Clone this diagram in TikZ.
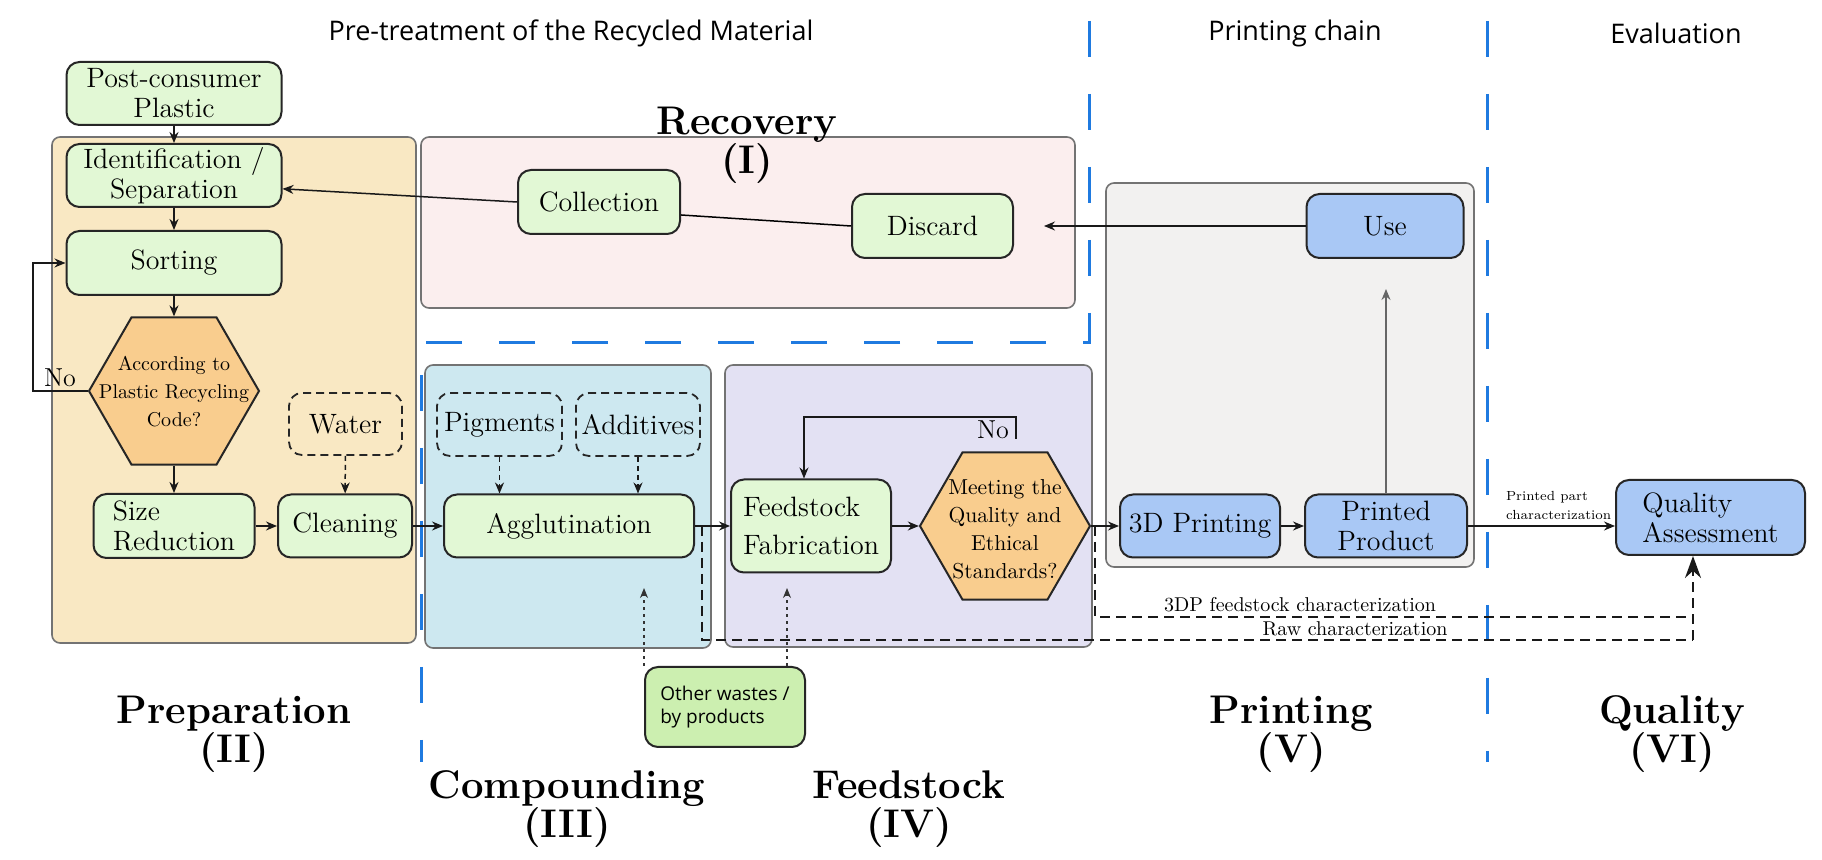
\documentclass[tikz,border=0pt]{standalone}
\usepackage{fontspec}
\newfontfamily\topfont{Open Sans}
\usetikzlibrary{arrows.meta,shapes.geometric,calc}
\definecolor{ngreen}{HTML}{E2F8D5}
\definecolor{ogreen}{HTML}{CCEFB0}
\definecolor{nblue}{HTML}{A9C8F5}
\definecolor{norange}{HTML}{F9CD8E}
\definecolor{cprep}{HTML}{F9E8C3}
\definecolor{crec}{HTML}{FBEEEE}
\definecolor{ccomp}{HTML}{CDE8F0}
\definecolor{cfeed}{HTML}{E3E1F3}
\definecolor{cprint}{HTML}{F2F1F0}
\definecolor{cline}{HTML}{1F7AE0}
\begin{document}
\begin{tikzpicture}[x=0.5pt,y=-0.5pt,
  nd/.style={draw=black!85, line width=1pt, rounded corners=6.5pt, inner sep=0pt, align=center, font=\fontsize{14}{15}\selectfont},
  gn/.style={nd, fill=ngreen},
  bn/.style={nd, fill=nblue},
  dn/.style={nd, dash pattern=on 4pt off 2.5pt, line width=0.9pt},
  hexa/.style={regular polygon, regular polygon sides=6, draw=black!85, line width=1pt, fill=norange, minimum size=85pt, inner sep=0pt},
  hext/.style={align=center, font=\fontsize{10}{14}\selectfont},
  phasebox/.style={draw=black!55, line width=0.8pt, rounded corners=4pt},
  arr/.style={-{Stealth[length=5.5pt,width=4.5pt]}, line width=0.75pt, black!90},
  darr/.style={arr, dash pattern=on 2.5pt off 2pt},
  dsh/.style={line width=1pt, black!90, dash pattern=on 5pt off 3pt},
  dotarr/.style={-{Stealth[length=5pt,width=4pt]}, line width=0.6pt, dash pattern=on 1.5pt off 2pt, black!80},
  headlbl/.style={font=\fontsize{20}{19.5}\selectfont\bfseries, align=center},
  toplbl/.style={font=\topfont\fontsize{13.5}{16}\selectfont},
  bluedash/.style={draw=cline, line width=1.5pt, dash pattern=on 18pt off 18.5pt},
  nolbl/.style={font=\fontsize{13}{14}\selectfont},
]
\fill[white] (0,0) rectangle (1822,860);
\useasboundingbox (0,0) rectangle (1822,860);

% blue phase separators
\draw[bluedash] (1089,21) -- (1089,343) -- (421,343) -- (421,762);
\draw[bluedash] (1487,21) -- (1487,762);

% phase boxes
\draw[phasebox, fill=cprep] (52,137) rectangle (416,643);
\draw[phasebox, fill=crec] (421,137) rectangle (1075,308);
\draw[phasebox, fill=ccomp] (425,365) rectangle (711,648);
\draw[phasebox, fill=cfeed] (725,365) rectangle (1092,647);
\draw[phasebox, fill=cprint] (1106,183) rectangle (1474,567);

% top labels
\node[toplbl] (t1) at (571,33) {Pre-treatment of the Recycled Material};
\node[toplbl] (t2) at (1295,33) {Printing chain};
\node[toplbl] (t3) at (1676,33) {Evaluation};

% nodes
\node[gn, minimum width=107.5pt, minimum height=31.5pt] (pc) at (174,93.5) {Post-consumer\\Plastic};
\node[gn, minimum width=107.5pt, minimum height=31.5pt] (ids) at (174,175.5) {Identification /\\Separation};
\node[gn, minimum width=107.5pt, minimum height=32pt] (sort) at (174,263) {Sorting};
\node[hexa] (q1) at (174,391) {};
\node[hext] (q1t) at (174,392) {According to\\Plastic Recycling\\Code?};
\node[dn, minimum width=56.5pt, minimum height=31pt] (water) at (345.5,424) {Water};
\node[gn, align=left, minimum width=80.5pt, minimum height=32pt] (size) at (174,526) {Size\\Reduction};
\node[gn, minimum width=67pt, minimum height=31.5pt] (clean) at (345,526) {Cleaning};
\node[gn, minimum width=81pt, minimum height=32pt] (coll) at (599,202) {Collection};
\node[gn, minimum width=80.5pt, minimum height=32pt] (disc) at (932.5,226) {Discard};
\node[bn, minimum width=78.5pt, minimum height=32pt] (use) at (1385,226) {Use};
\node[dn, minimum width=62.5pt, minimum height=31.5pt] (pig) at (499.5,424.5) {Pigments};
\node[dn, minimum width=62pt, minimum height=31.5pt] (add) at (638,424.5) {Additives};
\node[gn, minimum width=125pt, minimum height=31.5pt] (agg) at (569,526) {Agglutination};
\node[gn, align=left, font=\fontsize{14}{19}\selectfont, minimum width=80pt, minimum height=46.5pt] (ff) at (811,526) {Feedstock\\Fabrication};
\node[hexa] (q2) at (1005,526) {};
\node[hext, font=\fontsize{10.8}{14}\selectfont] (q2t) at (1005,529) {Meeting the\\Quality and\\Ethical\\Standards?};
\node[bn, minimum width=80pt, minimum height=31.5pt] (p3d) at (1200,526) {3D Printing};
\node[bn, minimum width=81pt, minimum height=31.5pt] (pp) at (1386,526) {Printed\\Product};
\node[bn, align=left, minimum width=94.5pt, minimum height=37.5pt] (qa) at (1710.5,517.5) {Quality\\Assessment};
\node[nd, fill=ogreen, align=left, font=\topfont\fontsize{9.5}{11.5}\selectfont, minimum width=80pt, minimum height=40pt] (ow) at (725,707) {Other wastes /\\by products};

% helper coordinates
\coordinate (nol) at (33,0);
\coordinate (nos) at (1016,439);
\coordinate (nol2) at (804,417);
\coordinate (o1) at (644,588);
\coordinate (o2) at (787,588);
\coordinate (h2d) at (1095,617);
\coordinate (r1) at (702,640);
\coordinate (qin) at (1693,0);

% connectors
\draw[arr] (pc) -- (ids);
\draw[arr] (ids) -- (sort);
\draw[arr] (sort) -- (q1);
\draw[arr] (q1) -- (size);
\draw[arr] (q1.west) -- (q1.west -| nol) |- (sort.west);
\node[nolbl] (no1) at (60,378) {No};
\draw[arr] (size) -- (clean);
\draw[darr] (water) -- (clean);
\draw[arr] (clean) -- (agg);
\draw[darr] (pig) -- (pig |- agg.north);
\draw[darr] (add) -- (add |- agg.north);
\draw[arr] (agg) -- (ff);
\draw[arr] (ff) -- (q2);
\draw[arr] (nos) |- (nol2) -- (nol2 |- ff.north);
\node[nolbl] (no2) at (993,430) {No};
\draw[arr] (q2) -- (p3d);
\draw[arr] (p3d) -- (pp);
\draw[arr, black!60, line width=0.6pt, shorten >=15pt] (pp.north) -- (pp.north |- use.south);
\draw[arr, line width=0.6pt, shorten >=15pt] (use.west) -- (use.west -| disc.east);
\draw[line width=0.75pt] (disc.west) -- (coll.-9);
\draw[arr] (coll.west) -- (ids.-7);
\draw[arr] (pp) -- (qa.west |- pp.east);
\node[font=\fontsize{6.6}{9.5}\selectfont, align=left, anchor=west] (ppl) at (1499,505) {Printed part\\characterization};

% characterization lines
\draw[dsh] (q2.east -| h2d) -- (h2d) -- (h2d -| qin);
\draw[dsh] (agg.east -| r1) -- (r1) -- (r1 -| qin);
\draw[dsh, -{Stealth[length=11pt,width=8pt]}] (r1 -| qin) -- (qin |- qa.south);
\node[font=\fontsize{10}{12}\selectfont, anchor=base] (l3dp) at (1300,612) {3DP feedstock characterization};
\node[font=\fontsize{10}{12}\selectfont, anchor=base] (lraw) at (1355,636) {Raw characterization};

% other wastes inputs
\draw[dotarr] (o1 |- ow.north) -- (o1);
\draw[dotarr] (o2 |- ow.north) -- (o2);

% headings
\node[headlbl] (hrec) at (747,145) {Recovery\\(I)};
\node[headlbl] (hprep) at (234,734) {Preparation\\(II)};
\node[headlbl] (hcomp) at (567,809) {Compounding\\(III)};
\node[headlbl] (hfeed) at (909,809) {Feedstock\\(IV)};
\node[headlbl] (hprint) at (1291,734) {Printing\\(V)};
\node[headlbl] (hqual) at (1672,734) {Quality\\(VI)};
\end{tikzpicture}
\end{document}
